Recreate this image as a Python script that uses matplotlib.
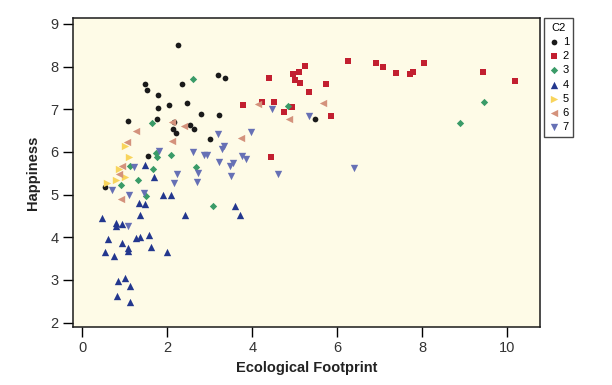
import numpy as np
import matplotlib
matplotlib.use("Agg")
import matplotlib.pyplot as plt

# data, one pair of lists per C2 group
x1 = [2.26, 3.19, 3.36, 1.48, 1.51, 2.35, 1.77, 1.77, 2.03, 2.45, 2.80, 3.22,
      1.08, 1.76, 2.15, 2.12, 2.20, 2.54, 2.62, 3.00, 1.55, 0.52, 5.48]
y1 = [8.51, 7.80, 7.73, 7.59, 7.44, 7.59, 7.34, 7.02, 7.09, 7.14, 6.89, 6.87,
      6.73, 6.76, 6.70, 6.54, 6.44, 6.63, 6.54, 6.30, 5.90, 5.18, 6.76]

x2 = [3.77, 6.26, 6.90, 7.07, 8.03, 7.39, 7.70, 7.79, 9.43, 10.19, 5.24, 4.96,
      5.09, 5.00, 5.13, 4.39, 5.73, 5.33, 4.22, 4.50, 4.93, 4.74, 5.86, 4.43]
y2 = [7.09, 8.14, 8.09, 7.98, 8.09, 7.84, 7.82, 7.88, 7.86, 7.67, 8.02, 7.82,
      7.86, 7.69, 7.61, 7.72, 7.60, 7.41, 7.18, 7.16, 7.05, 6.94, 6.84, 5.87]

x3 = [2.61, 1.63, 1.72, 1.75, 2.08, 2.68, 1.12, 1.67, 1.30, 0.90, 1.50, 3.08,
      4.83, 9.45, 8.88]
y3 = [7.71, 6.68, 5.97, 5.89, 5.92, 5.65, 5.66, 5.60, 5.35, 5.22, 4.96, 4.72,
      7.08, 7.18, 6.67]

x4 = [1.48, 1.69, 1.89, 2.08, 1.34, 1.48, 1.36, 0.47, 0.79, 0.79, 0.92, 0.61,
      0.93, 1.26, 1.35, 1.57, 1.62, 1.07, 1.07, 0.53, 0.75, 2.00, 0.83, 1.00,
      1.11, 0.81, 1.13, 2.42, 3.59, 3.71]
y4 = [5.70, 5.41, 4.98, 4.98, 4.80, 4.77, 4.51, 4.45, 4.34, 4.26, 4.30, 3.95,
      3.87, 3.97, 4.00, 4.05, 3.78, 3.74, 3.68, 3.66, 3.56, 3.66, 2.98, 3.04,
      2.85, 2.63, 2.48, 4.51, 4.72, 4.51]

x5 = [1.00, 1.10, 0.85, 1.00, 0.78, 0.57]
y5 = [6.14, 5.87, 5.59, 5.41, 5.34, 5.27]

x6 = [2.10, 2.40, 1.25, 1.04, 2.11, 3.73, 0.93, 0.86, 0.91, 4.14, 5.66, 4.87]
y6 = [6.70, 6.61, 6.50, 6.24, 6.26, 6.32, 5.68, 5.49, 4.89, 7.12, 7.15, 6.77]

x7 = [3.19, 3.96, 3.34, 3.28, 1.80, 2.60, 2.86, 2.92, 3.21, 3.54, 3.48, 3.75,
      3.85, 1.22, 2.71, 2.22, 3.49, 2.70, 2.16, 0.69, 1.09, 1.44, 1.07, 4.46,
      5.33, 4.60, 6.39]
y7 = [6.41, 6.47, 6.13, 6.06, 6.02, 6.00, 5.92, 5.92, 5.76, 5.74, 5.67, 5.90,
      5.84, 5.65, 5.51, 5.48, 5.44, 5.30, 5.27, 5.10, 4.98, 5.03, 4.26, 7.00,
      6.83, 5.48, 5.62]

plt.rcParams['font.family'] = ['Liberation Sans', 'DejaVu Sans']

fig = plt.figure(figsize=(6.12, 3.85), dpi=100)
ax = fig.add_axes([0.1188, 0.150, 0.7636, 0.8025])
ax.set_facecolor('#fefbe7')

# (x, y, marker, colour, size, label)
groups = [(x1, y1, 'o', '#1a1a1a', 17, '1'),
          (x2, y2, 's', '#c21f30', 17, '2'),
          (x3, y3, 'D', '#3a9b68', 14, '3'),
          (x4, y4, '^', '#23378e', 28, '4'),
          (x5, y5, '>', '#f8d45c', 28, '5'),
          (x6, y6, '<', '#d4927c', 28, '6'),
          (x7, y7, 'v', '#6670b5', 28, '7')]
for gx, gy, m, c, s, lab in groups:
    ax.scatter(gx, gy, marker=m, c=c, s=s, linewidths=0, label=lab, zorder=3)

ax.set_xlim(-0.23, 10.77)
ax.set_ylim(1.89, 9.13)
ax.set_xticks([0, 2, 4, 6, 8, 10])
ax.set_yticks([2, 3, 4, 5, 6, 7, 8, 9])
ax.tick_params(direction='out', length=7, width=1, labelsize=10.5,
               labelcolor='#333333', pad=3)
for sp in ax.spines.values():
    sp.set_linewidth(1.1)
    sp.set_color('#1a1a1a')

ax.set_xlabel('Ecological Footprint', fontsize=10.5, fontweight='bold',
              color='#222222', labelpad=4)
ax.set_ylabel('Happiness', fontsize=10.5, fontweight='bold',
              color='#222222', labelpad=8)

leg = ax.legend(title='C2', loc='upper left', bbox_to_anchor=(1.008, 1.0),
                fontsize=8, title_fontsize=8, frameon=True, fancybox=False,
                edgecolor='#1a1a1a', handletextpad=0.3, borderpad=0.4,
                labelspacing=0.38, handlelength=1.0, borderaxespad=0)
leg.get_frame().set_linewidth(1.0)

fig.savefig('out.png', dpi=100)
